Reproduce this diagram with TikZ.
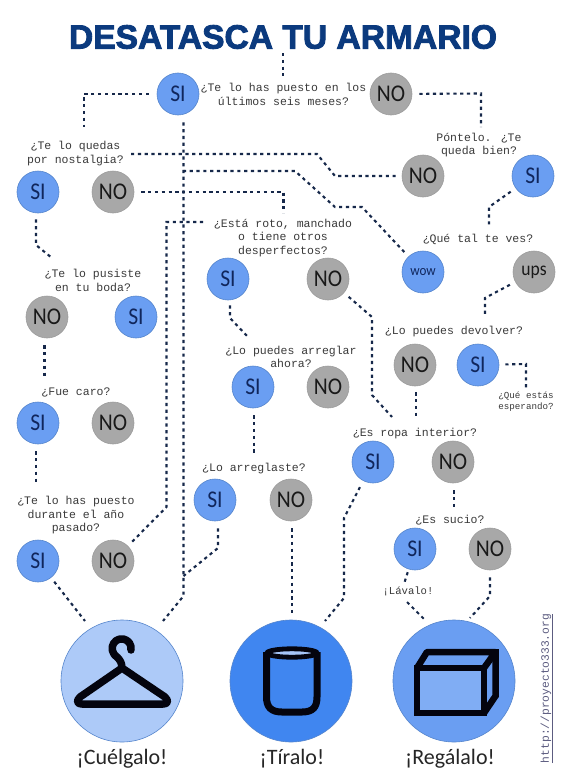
\documentclass[tikz,border=0pt]{standalone}
\usepackage{fontspec}
\setmainfont{Carlito}
\newfontfamily\circf[FakeStretch=0.9]{Carlito}
\newfontfamily\monof{Liberation Mono}
\newfontfamily\titlef[FakeBold=2.6]{Liberation Sans Bold}
\usetikzlibrary{calc}
\definecolor{sib}{HTML}{6A9EF2}
\definecolor{sibd}{HTML}{5585CC}
\definecolor{nog}{HTML}{A8A8A8}
\definecolor{nogd}{HTML}{9C9C9C}
\definecolor{navy}{HTML}{10265C}
\definecolor{linec}{HTML}{16284A}
\definecolor{titlec}{HTML}{0B3A7E}
\definecolor{qtext}{HTML}{3A3A3A}
\definecolor{midblue}{HTML}{4086F0}
\definecolor{urlc}{HTML}{5C5C80}
\definecolor{iconc}{HTML}{04040E}
\tikzset{
  sicirc/.style={circle,draw=sibd,fill=sib,line width=.6pt,minimum size=42pt,inner sep=0pt,text=navy,font=\circf\fontsize{24}{24}\selectfont},
  nocirc/.style={circle,draw=nogd,fill=nog,line width=.6pt,minimum size=42pt,inner sep=0pt,text=black!90,font=\circf\fontsize{24}{24}\selectfont},
  bigcirc/.style={circle,draw=sibd,line width=.6pt,minimum size=122pt,inner sep=0pt},
  ques/.style={align=center,inner sep=0pt,yshift=-1.2pt,text=qtext,font=\monof\fontsize{11.5}{13.6}\selectfont},
  small/.style={align=center,inner sep=0pt,yshift=-.8pt,text=qtext,font=\monof\fontsize{9.2}{11}\selectfont},
  result/.style={inner sep=0pt,yshift=-2pt,text=black!85,font=\fontsize{22}{24}\selectfont},
  conn/.style={draw=linec,line width=2.1pt,dash pattern=on 3.2pt off 3.6pt},
  iconline/.style={draw=iconc,line width=6.5pt},
}
\begin{document}
\begin{tikzpicture}[x=1pt,y=-1pt]
\useasboundingbox[fill=white] (0,0) rectangle (564,776);
% title
\node[inner sep=0pt,text=titlec,font=\titlef\fontsize{33.6}{34}\selectfont] (title) at (283,37) {DESATASCA TU ARMARIO};
% questions
\node[ques] (q1) at (283.5,93) {¿Te lo has puesto en los\\últimos seis meses?};
\node[ques] (q2) at (479,144) {Póntelo. ¿Te\\queda bien?};
\node[ques] (q3) at (75.5,152.5) {¿Te lo quedas\\por nostalgia?};
\node[ques] (q4) at (283,236.5) {¿Está roto, manchado\\o tiene otros\\desperfectos?};
\node[ques] (q5) at (478,238) {¿Qué tal te ves?};
\node[ques] (q6) at (93,279) {¿Te lo pusiste\\en tu boda?};
\node[ques] (q7) at (454,330) {¿Lo puedes devolver?};
\node[ques] (q8) at (291,355.5) {¿Lo puedes arreglar\\ahora?};
\node[ques] (q9) at (76,391) {¿Fue caro?};
\node[small] (q10) at (526,400.5) {¿Qué estás\\esperando?};
\node[ques] (q11) at (415,432) {¿Es ropa interior?};
\node[ques] (q12) at (254,467) {¿Lo arreglaste?};
\node[ques] (q13) at (76,514) {¿Te lo has puesto\\durante el año\\pasado?};
\node[ques] (q14) at (450,519) {¿Es sucio?};
\node[small,font=\monof\fontsize{10.6}{12}\selectfont] (q15) at (408,591) {¡Lávalo!};
% circles
\node[sicirc] (a1) at (178,94) {SI};
\node[nocirc] (a2) at (391,94) {NO};
\node[nocirc] (b1) at (423,176) {NO};
\node[sicirc] (b2) at (533,176) {SI};
\node[sicirc] (c1) at (38,192) {SI};
\node[nocirc] (c2) at (113,192) {NO};
\node[sicirc,font=\circf\fontsize{14.5}{15}\selectfont] (d1) at (423,272) {wow};
\node[nocirc,font=\circf\fontsize{19.5}{20}\selectfont] (d2) at (534,272) {ups};
\node[sicirc] (e1) at (228,279) {SI};
\node[nocirc] (e2) at (328,279) {NO};
\node[nocirc] (f1) at (47,317) {NO};
\node[sicirc] (f2) at (136,317) {SI};
\node[nocirc] (g1) at (415,365) {NO};
\node[sicirc] (g2) at (478,365) {SI};
\node[sicirc] (h1) at (253,387) {SI};
\node[nocirc] (h2) at (328,387) {NO};
\node[sicirc] (i1) at (38,423) {SI};
\node[nocirc] (i2) at (113,423) {NO};
\node[sicirc] (j1) at (373,462) {SI};
\node[nocirc] (j2) at (453,462) {NO};
\node[sicirc] (k1) at (215,500) {SI};
\node[nocirc] (k2) at (291,500) {NO};
\node[sicirc] (l1) at (415,549) {SI};
\node[nocirc] (l2) at (490,549) {NO};
\node[sicirc] (m1) at (38,561) {SI};
\node[nocirc] (m2) at (113,561) {NO};
% big circles
\node[bigcirc,fill=sib!55!white] (r1) at (122,681) {};
\node[bigcirc,fill=midblue] (r2) at (291,681) {};
\node[bigcirc,fill=sib] (r3) at (454,681) {};
\node[result] (t1) at (122,757) {¡Cuélgalo!};
\node[result] (t2) at (292,757) {¡Tíralo!};
\node[result] (t3) at (450,757) {¡Regálalo!};
\node[inner sep=0pt,rotate=90,text=urlc,font=\monof\fontsize{11.3}{12}\selectfont] (url) at (547,688.5) {\underline{http://proyecto333.org}};
% free ends and junctions
\coordinate (x1) at (283,76);
\coordinate (x2) at (84,127);
\coordinate (x3) at (481,127);
\coordinate (v1) at (183.5,596);
\coordinate (x4) at (163,621);
\coordinate (j171) at (183.5,171);
\coordinate (j576) at (183.5,576);
\coordinate (x5) at (131,154);
\coordinate (x6) at (205,222);
\coordinate (x7) at (283.5,213);
\coordinate (x8) at (52,258);
\coordinate (x9) at (44.5,378);
\coordinate (x10) at (36,485);
\coordinate (x11) at (85,621);
\coordinate (x12) at (249,338);
\coordinate (x13) at (254,455);
\coordinate (x14) at (292,613);
\coordinate (x15) at (392,417);
\coordinate (x16) at (416,418);
\coordinate (x17) at (325,621);
\coordinate (x18) at (454,508);
\coordinate (x19) at (404,584);
\coordinate (x20) at (407,602);
\coordinate (x21) at (425,620);
\coordinate (x22) at (470,618);
\coordinate (x23) at (489,227);
\coordinate (x24) at (485,317);
\coordinate (x25) at (526,388);
% connectors
\draw[conn] (title.south -| x1) ++(0,4) -- (x1);
\draw[conn,shorten <=8pt] (a1) -- (84,94) -- (x2);
\draw[conn,shorten <=7pt] (a2) -- (481,93.5) -- (x3);
\draw[conn,shorten <=7pt] (a1.south -| v1) -- (v1) -- (x4);
\draw[conn,shorten <=6pt] (d1) -- (362,207) -- (335,207) -- (295,171) -- (j171);
\draw[conn,shorten >=6pt] (x5) -- (317,154) -- (335,176) -- (b1);
\draw[conn,shorten <=7pt] (c2) -- (283.5,192) -- (x7);
\draw[conn,shorten <=6pt] (m2) -- (166.5,507) -- (166.5,222) -- (x6);
\draw[conn,shorten <=6pt] (c1.south -| 36,0) -- (36,245) -- (x8);
\draw[conn,shorten <=7pt] (f1.south -| x9) -- (x9);
\draw[conn,shorten <=7pt] (i1.south -| x10) -- (x10);
\draw[conn,shorten <=5pt] (m1) -- (x11);
\draw[conn,shorten <=5pt] (e1.south -| 230,0) -- (230,318) -- (x12);
\draw[conn,shorten <=7pt] (h1.south -| x13) -- (x13);
\draw[conn,shorten <=7pt] (k1.south -| 218,0) -- (218,548) -- (j576);
\draw[conn,shorten <=7pt] (k2.south -| x14) -- (x14);
\draw[conn,shorten <=6pt] (e2) -- (372,317) -- (372,395) -- (x15);
\draw[conn,shorten <=6pt] (g1.south -| x16) -- (x16);
\draw[conn,shorten <=7pt] (j1) -- (344,518) -- (344,598) -- (x17);
\draw[conn,shorten <=7pt] (j2.south -| x18) -- (x18);
\draw[conn,shorten <=3pt] (l1) -- (x19);
\draw[conn] (x20) -- (x21);
\draw[conn,shorten <=7pt] (l2.south -| 490,0) -- (490,596) -- (x22);
\draw[conn,shorten <=6pt] (b2) -- (489,207) -- (x23);
\draw[conn,shorten <=6pt] (d2) -- (485,298) -- (x24);
\draw[conn,shorten <=6pt] (g2) -- (526,364) -- (x25);
% hanger
\draw[iconline,line width=7.5pt,line cap=round,line join=round]
  (131,650) arc (10:-215:9.5) .. controls (113,655) and (122,658) .. (122,668)
  -- (80,697) .. controls (76,701) and (77,704) .. (82,704) -- (163,704) .. controls (168,704) and (169,701) .. (165,697) -- (122,668);
% jar
\draw[iconline,line width=7pt,line join=round]
  (266.5,652) -- (266.5,697) .. controls (266.5,707) and (271,712) .. (282,712) -- (302,712) .. controls (313,712) and (317,707) .. (317,697) -- (317,652);
\draw[draw=iconc,line width=4.8pt,fill=sib!60!white] (292,653) ellipse (25 and 4.2);
% box
\draw[iconline,line join=miter,fill=sib!85!white] (417,668) rectangle (484,713);
\draw[iconline,line join=bevel] (417,668) -- (427,652) -- (495.5,652) -- (484,668);
\draw[iconline,line join=miter] (495.5,649) -- (495.5,696) -- (484,713);
\end{tikzpicture}
\end{document}
